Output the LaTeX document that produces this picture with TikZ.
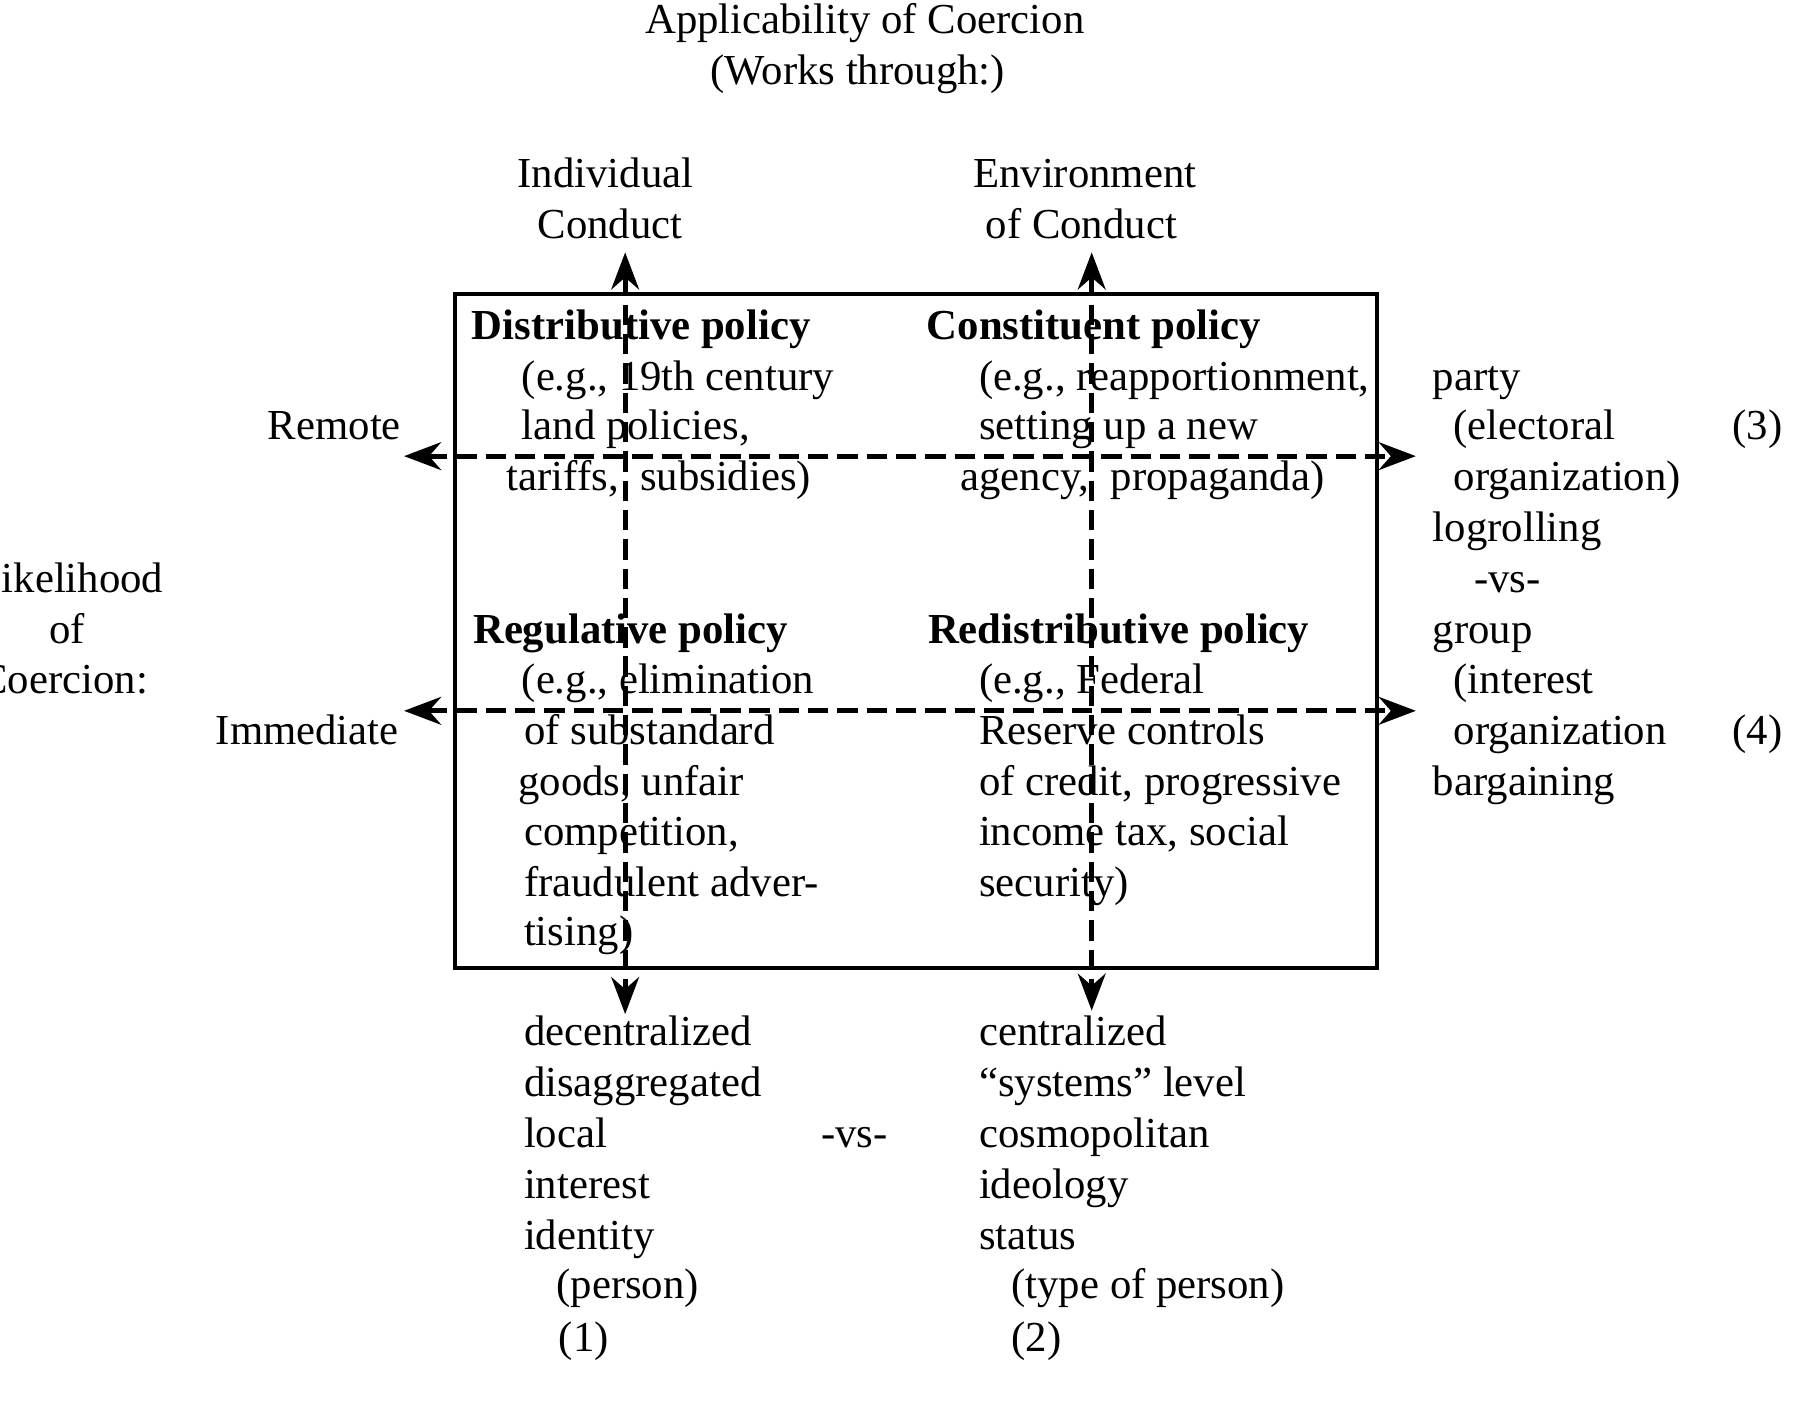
\documentclass[tikz,border=0pt]{standalone}
\usepackage{fontspec}
\setmainfont{Liberation Serif}
\usetikzlibrary{arrows.meta}
\begin{document}
\begin{tikzpicture}[x=0.01cm,y=-0.01cm,
 every node/.style={font=\fontsize{10.5}{13}\selectfont,inner sep=0pt},
 t/.style={anchor=base west},
 c/.style={anchor=base},
 r/.style={anchor=base east},
 b/.style={anchor=base west,font=\fontsize{10.5}{13}\selectfont\bfseries},
 dl/.style={line width=1.2pt,dash pattern=on 5pt off 2.2pt,{Stealth[length=3.2mm,width=2.4mm]}-{Stealth[length=3.2mm,width=2.4mm]}}]
\useasboundingbox (0,0) rectangle (1560,1233);
\node[draw,line width=1.1pt,minimum width=7.96cm,minimum height=5.82cm,anchor=north west] (box) at (391,252) {};
\coordinate (v1t) at (540,218); \coordinate (v1b) at (540,876);
\coordinate (v2t) at (943,218); \coordinate (v2b) at (943,873);
\coordinate (h1l) at (349,394); \coordinate (h1r) at (1223,394);
\coordinate (h2l) at (349,614); \coordinate (h2r) at (1223,614);
\draw[dl] (v1t)--(v1b); \draw[dl] (v2t)--(v2b);
\draw[dl] (h1l)--(h1r); \draw[dl] (h2l)--(h2r);
% title
\node[c] (ti1) at (747,29) {Applicability of Coercion};
\node[c] (ti2) at (741,73) {(Works through:)};
\node[c] (ic1) at (523,162) {Individual};
\node[c] (ic2) at (527,206) {Conduct};
\node[c] (ec1) at (937,162) {Environment};
\node[c] (ec2) at (934,206) {of Conduct};
% left
\node[c] (lk1) at (60,512) {Likelihood};
\node[c] (lk2) at (58,556) {of};
\node[c] (lk3) at (55,599) {Coercion:};
\node[r] (rem) at (347,380) {Remote};
\node[r] (imm) at (345,643) {Immediate};
% quadrant 1
\node[b] (d0) at (407,293) {Distributive policy};
\node[t] (d1) at (450,337) {(e.g., 19th century};
\node[t] (d2) at (450,380) {land policies,};
\node[t] (d3) at (437,424) {tariffs, \ subsidies)};
\node[b] (k0) at (800,293) {Constituent policy};
\node[t] (k1) at (845,337) {(e.g., reapportionment,};
\node[t] (k2) at (845,380) {setting up a new};
\node[t] (k3) at (829,424) {agency, \ propaganda)};
\node[b] (g0) at (408,556) {Regulative policy};
\node[t] (g1) at (450,599) {(e.g., elimination};
\node[t] (g2) at (452,643) {of substandard};
\node[t] (g3) at (447,687) {goods, unfair};
\node[t] (g4) at (452,730) {competition,};
\node[t] (g5) at (452,774) {fraudulent adver-};
\node[t] (g6) at (452,817) {tising)};
\node[b] (s0) at (801,556) {Redistributive policy};
\node[t] (s1) at (845,599) {(e.g., Federal};
\node[t] (s2) at (845,643) {Reserve controls};
\node[t] (s3) at (845,687) {of credit, progressive};
\node[t] (s4) at (845,730) {income tax, social};
\node[t] (s5) at (845,774) {security)};
% right
\node[t] (p1) at (1237,337) {party};
\node[t] (p2) at (1255,380) {(electoral};
\node[t] (p3) at (1255,424) {organization)};
\node[t] (p4) at (1237,468) {logrolling};
\node[c] (p5) at (1302,512) {-vs-};
\node[t] (p6) at (1237,556) {group};
\node[t] (p7) at (1255,599) {(interest};
\node[t] (p8) at (1255,643) {organization};
\node[t] (p9) at (1237,687) {bargaining};
\node[c] (n3) at (1518,380) {(3)};
\node[c] (n4) at (1518,643) {(4)};
% bottom
\node[t] (a1) at (452,903) {decentralized};
\node[t] (a2) at (452,947) {disaggregated};
\node[t] (a3) at (452,991) {local};
\node[t] (a4) at (452,1035) {interest};
\node[t] (a5) at (452,1079) {identity};
\node[t] (a6) at (480,1122) {(person)};
\node[t] (a7) at (482,1167) {(1)};
\node[c] (vs) at (738,991) {-vs-};
\node[t] (e1) at (845,903) {centralized};
\node[t] (e2) at (845,947) {“systems” level};
\node[t] (e3) at (845,991) {cosmopolitan};
\node[t] (e4) at (845,1035) {ideology};
\node[t] (e5) at (845,1079) {status};
\node[t] (e6) at (873,1122) {(type of person)};
\node[t] (e7) at (873,1167) {(2)};
\end{tikzpicture}
\end{document}
